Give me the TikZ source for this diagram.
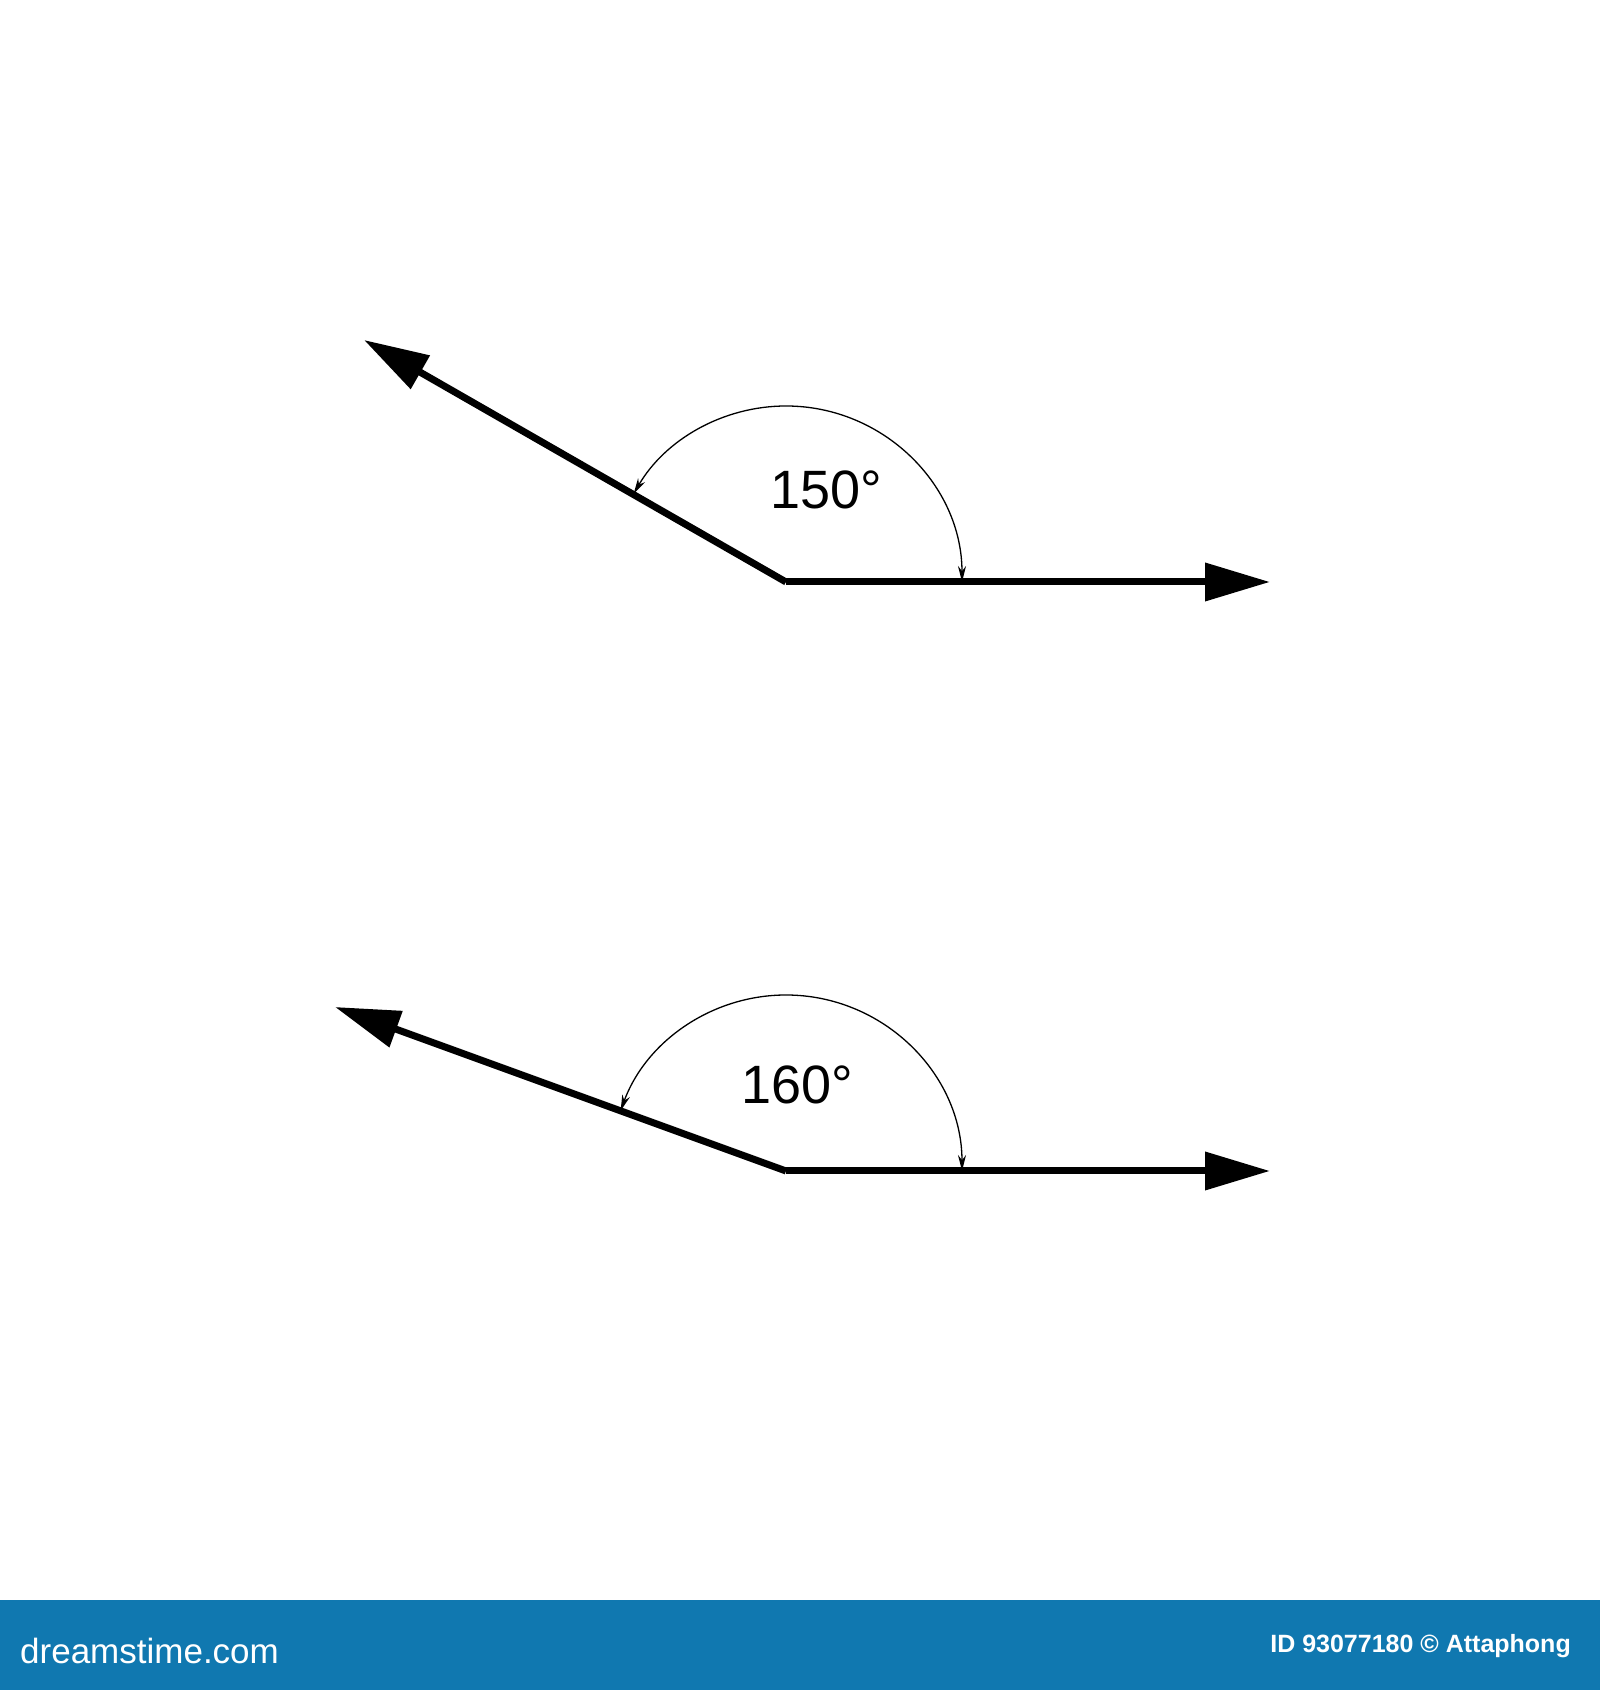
\documentclass[tikz,border=0pt]{standalone}
\usepackage{fontspec}
\setmainfont{Liberation Sans}
\usepackage{tikz}
\usetikzlibrary{calc,arrows.meta,positioning}
\definecolor{barblue}{RGB}{16,120,176}
\tikzset{
    every node/.style={font=\rmfamily},
    ray/.style={line width=7pt,-{Triangle[length=65pt,width=37pt]}},
    angle arc/.style={line width=1.3pt,{Stealth[length=16pt,width=8pt]}-{Stealth[length=16pt,width=8pt]}},
    angle label/.style={font=\fontsize{54}{60}\selectfont},
    bar text/.style={text=white,inner sep=0pt}
}
\begin{document}
\begin{tikzpicture}[x=1pt,y=1pt]
    \useasboundingbox (0,0) rectangle (1600,1690);

        % top angle, 150 degrees
        \coordinate (v1) at (786,1108);
        \coordinate (r1) at (1270,1108);
        \coordinate (l1) at (364,1350);
        \draw[ray] (v1) -- (r1);
        \draw[ray] (v1) -- (l1);
        \draw[angle arc] ($(v1)+(0:176pt)$) arc[start angle=0,end angle=150,radius=176pt];
        \node[angle label] (a1) at (826,1200) {150°};

        % bottom angle, 160 degrees
        \coordinate (v2) at (786,519);
        \coordinate (r2) at (1270,519);
        \coordinate (l2) at (335,683);
        \draw[ray] (v2) -- (r2);
        \draw[ray] (v2) -- (l2);
        \draw[angle arc] ($(v2)+(0:176pt)$) arc[start angle=0,end angle=160,radius=176pt];
        \node[angle label] (a2) at (797,605) {160°};

        % footer bar
        \fill[barblue] (0,0) rectangle (1600,90);
        \node[bar text,anchor=base west,font=\fontsize{35}{40}\selectfont] (logo) at (20,27) {dreamstime.com};
        \node[bar text,anchor=base east,font=\bfseries\fontsize{25}{30}\selectfont] (id) at (1571,37) {ID 93077180 © Attaphong};
      \end{tikzpicture}
\end{document}
